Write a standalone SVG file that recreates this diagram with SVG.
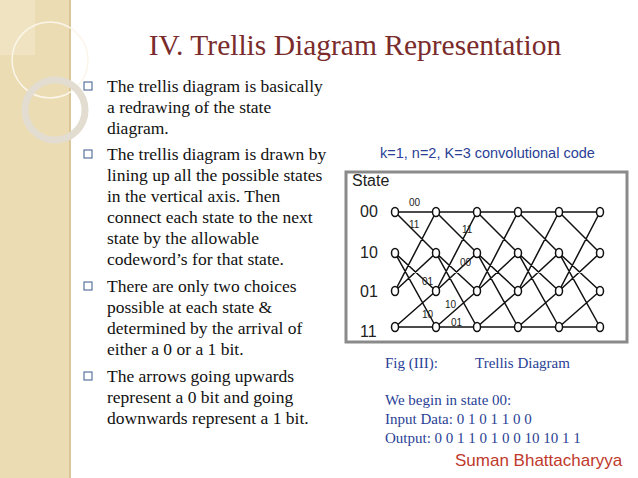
<svg xmlns="http://www.w3.org/2000/svg" width="638" height="478" viewBox="0 0 638 478">
<style>
.b{font-family:"Liberation Serif",serif;font-size:17.5px;fill:#111}
.blue{font-family:"Liberation Serif",serif;font-size:15px;fill:#2a3f96}
.st{font-family:"Liberation Sans",Arial,sans-serif;font-size:16px;fill:#222}
.lb{font-family:"Liberation Sans",Arial,sans-serif;font-size:10px;fill:#222}
.e{stroke:#111;stroke-width:1.5;fill:none}
.n{fill:#fff;stroke:#111;stroke-width:1.5}
.bx{fill:none;stroke:#3a5a8a;stroke-width:1}
</style>
<rect width="638" height="478" fill="#fff"/>
<rect x="0" y="0" width="70" height="478" fill="#ecdcb3"/>
<rect x="69" y="0" width="2" height="478" fill="#d9c699"/>
<rect x="0" y="0" width="35" height="55" fill="#f3e7cc" opacity="0.6"/>
<circle cx="50" cy="60" r="38" fill="none" stroke="#fbf6ea" stroke-width="1.5"/>
<circle cx="55" cy="110" r="30" fill="none" stroke="#e2ddd0" stroke-width="7"/>
<text x="355" y="55" text-anchor="middle" font-family="Liberation Serif,serif" font-size="29.5" fill="#7a2b2b">IV. Trellis Diagram Representation</text>
<g id="bullets">
<g class="bx"><rect x="84" y="82" width="8" height="8"/><rect x="84" y="150" width="8" height="8"/><rect x="84" y="282" width="8" height="8"/><rect x="84" y="372" width="8" height="8"/></g>
<text class="b" x="107" y="92">The trellis diagram is basically</text>
<text class="b" x="107" y="113">a redrawing of the state</text>
<text class="b" x="107" y="134">diagram.</text>
<text class="b" x="107" y="160">The trellis diagram is drawn by</text>
<text class="b" x="107" y="181">lining up all the possible states</text>
<text class="b" x="107" y="202">in the vertical axis. Then</text>
<text class="b" x="107" y="223">connect each state to the next</text>
<text class="b" x="107" y="244">state by the allowable</text>
<text class="b" x="107" y="265">codeword’s for that state.</text>
<text class="b" x="107" y="292">There are only two choices</text>
<text class="b" x="107" y="313">possible at each state &amp;</text>
<text class="b" x="107" y="334">determined by the arrival of</text>
<text class="b" x="107" y="355">either a 0 or a 1 bit.</text>
<text class="b" x="107" y="382"> The arrows going upwards</text>
<text class="b" x="107" y="403">represent a 0 bit and going</text>
<text class="b" x="107" y="424">downwards represent a 1 bit.</text>
</g>
<text x="380" y="158" font-family="Liberation Sans,Arial,sans-serif" font-size="14.5" fill="#2a3f96">k=1, n=2, K=3 convolutional code</text>
<rect x="346" y="172" width="281" height="170" fill="#fff" stroke="#8a8a8a" stroke-width="3"/>
<text class="st" x="352" y="186" font-size="14">State</text>
<text class="st" x="360" y="217">00</text>
<text class="st" x="360" y="258">10</text>
<text class="st" x="360" y="297">01</text>
<text class="st" x="360" y="337">11</text>
<g id="connectors">
<path class="e" d="
M395 212H600 M395 327H600
M395 212L436 253 M436 212L477 253 M477 212L518 253 M518 212L559 253 M559 212L600 253
M395 253L436 291 M436 253L477 291 M477 253L518 291 M518 253L559 291 M559 253L600 291
M395 253L436 327 M436 253L477 327 M477 253L518 327 M518 253L559 327 M559 253L600 327
M395 291L436 212 M436 291L477 212 M477 291L518 212 M518 291L559 212 M559 291L600 212
M395 291L436 253 M436 291L477 253 M477 291L518 253 M518 291L559 253 M559 291L600 253
M395 327L436 291 M436 327L477 291 M477 327L518 291 M518 327L559 291 M559 327L600 291"/>
</g>
<g id="nodes">
<g class="n">
<ellipse cx="395" cy="212" rx="3.5" ry="4.5"/><ellipse cx="436" cy="212" rx="3.5" ry="4.5"/><ellipse cx="477" cy="212" rx="3.5" ry="4.5"/><ellipse cx="518" cy="212" rx="3.5" ry="4.5"/><ellipse cx="559" cy="212" rx="3.5" ry="4.5"/><ellipse cx="600" cy="212" rx="3.5" ry="4.5"/>
<ellipse cx="395" cy="253" rx="3.5" ry="4.5"/><ellipse cx="436" cy="253" rx="3.5" ry="4.5"/><ellipse cx="477" cy="253" rx="3.5" ry="4.5"/><ellipse cx="518" cy="253" rx="3.5" ry="4.5"/><ellipse cx="559" cy="253" rx="3.5" ry="4.5"/><ellipse cx="600" cy="253" rx="3.5" ry="4.5"/>
<ellipse cx="395" cy="291" rx="3.5" ry="4.5"/><ellipse cx="436" cy="291" rx="3.5" ry="4.5"/><ellipse cx="477" cy="291" rx="3.5" ry="4.5"/><ellipse cx="518" cy="291" rx="3.5" ry="4.5"/><ellipse cx="559" cy="291" rx="3.5" ry="4.5"/><ellipse cx="600" cy="291" rx="3.5" ry="4.5"/>
<ellipse cx="395" cy="327" rx="3.5" ry="4.5"/><ellipse cx="436" cy="327" rx="3.5" ry="4.5"/><ellipse cx="477" cy="327" rx="3.5" ry="4.5"/><ellipse cx="518" cy="327" rx="3.5" ry="4.5"/><ellipse cx="559" cy="327" rx="3.5" ry="4.5"/><ellipse cx="600" cy="327" rx="3.5" ry="4.5"/>
</g>
</g>
<g id="edge-labels">
<text class="lb" x="409" y="206">00</text>
<text class="lb" x="409" y="228">11</text>
<text class="lb" x="462" y="233">11</text>
<text class="lb" x="460" y="266">00</text>
<text class="lb" x="422" y="285">01</text>
<text class="lb" x="445" y="308">10</text>
<text class="lb" x="422" y="318">10</text>
<text class="lb" x="451" y="326">01</text>
</g>
<text class="blue" x="385" y="368">Fig (III):</text>
<text class="blue" x="475" y="368">Trellis Diagram</text>
<text class="blue" x="385" y="405">We begin in state 00:</text>
<text class="blue" x="385" y="424">Input Data: 0 1 0 1 1 0 0</text>
<text class="blue" x="385" y="443">Output:  0 0 1 1 0 1 0 0 10 10 1 1</text>
<text x="455" y="466" font-family="Liberation Sans,Arial,sans-serif" font-size="17" fill="#c0392b">Suman Bhattacharyya</text>
</svg>
